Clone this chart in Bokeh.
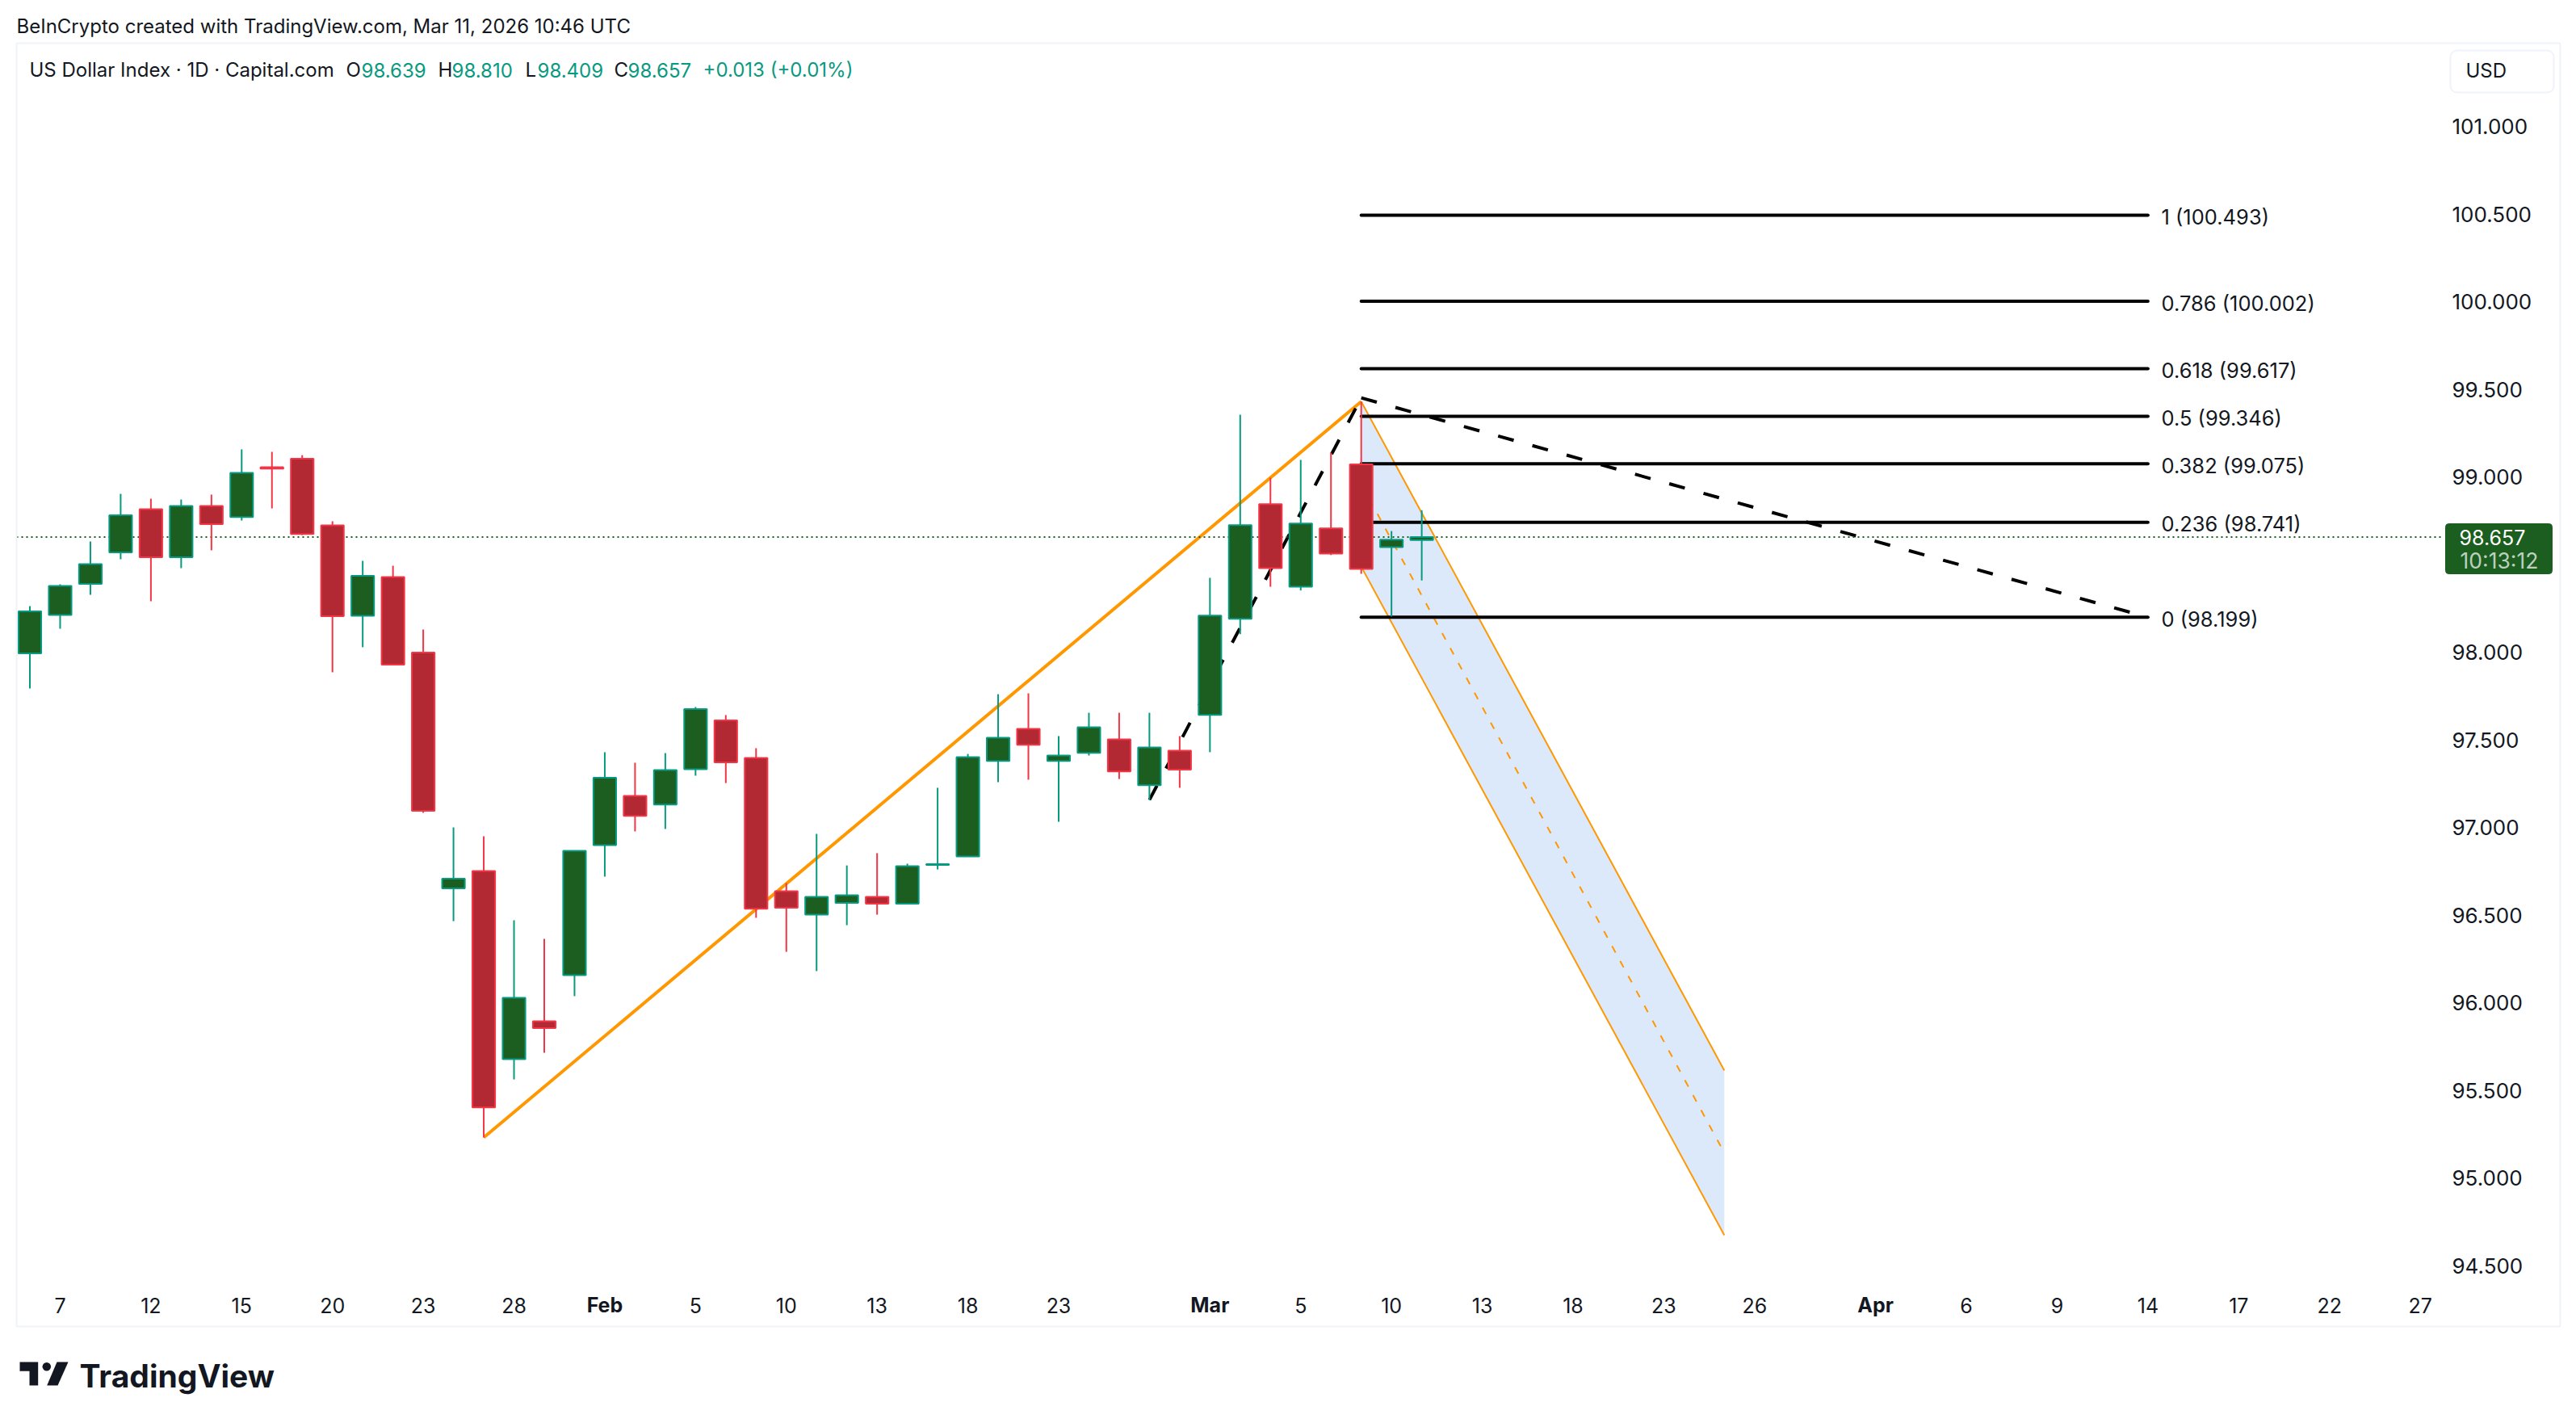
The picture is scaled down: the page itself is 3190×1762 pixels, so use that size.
from bokeh.embed import file_html
from bokeh.models import BoxAnnotation, FixedTicker, Label, LinearAxis, NumeralTickFormatter, Range1d
from bokeh.plotting import figure
from bokeh.resources import INLINE

# daily candles
bars = list(range(47))
opens = [97.993, 98.212, 98.389, 98.569, 98.816, 98.541, 98.834, 98.771, 99.055, 99.104,
         98.724, 98.207, 98.429, 97.998, 96.652, 96.751, 95.677, 95.894, 96.157, 96.899,
         97.180, 97.130, 97.332, 97.611, 97.396, 96.636, 96.502, 96.569, 96.604, 96.564,
         96.786, 96.834, 97.379, 97.562, 97.379, 97.425, 97.502, 97.241, 97.438, 97.642,
         98.190, 98.845, 98.373, 98.706, 99.071, 98.599, 98.639]
highs = [98.263, 98.387, 98.631, 98.903, 98.876, 98.871, 98.899, 99.157, 99.143, 99.124,
         98.747, 98.521, 98.493, 98.129, 97.000, 96.949, 96.470, 96.364, 96.866, 97.429,
         97.369, 97.424, 97.687, 97.641, 97.452, 96.682, 96.963, 96.783, 96.853, 96.793,
         97.226, 97.419, 97.760, 97.765, 97.521, 97.654, 97.654, 97.654, 97.521, 98.424,
         99.355, 98.995, 99.097, 99.138, 99.430, 98.691, 98.810]
lows = [97.793, 98.134, 98.327, 98.530, 98.290, 98.479, 98.581, 98.751, 98.820, 98.668,
        97.885, 98.028, 97.929, 97.083, 96.465, 95.230, 95.562, 95.714, 96.037, 96.719,
        96.977, 96.991, 97.295, 97.253, 96.484, 96.290, 96.180, 96.442, 96.502, 96.564,
        96.760, 96.834, 97.258, 97.272, 97.032, 97.410, 97.276, 97.157, 97.226, 97.429,
        98.103, 98.373, 98.352, 98.554, 98.447, 98.203, 98.409]
closes = [98.233, 98.378, 98.502, 98.781, 98.541, 98.834, 98.730, 99.023, 99.047, 98.674,
          98.205, 98.435, 97.929, 97.094, 96.707, 95.402, 96.028, 95.855, 96.866, 97.283,
          97.066, 97.327, 97.675, 97.371, 96.536, 96.541, 96.604, 96.613, 96.564, 96.779,
          96.790, 97.401, 97.512, 97.471, 97.410, 97.571, 97.319, 97.456, 97.329, 98.209,
          98.725, 98.479, 98.734, 98.562, 98.475, 98.642, 98.657]

last_price = 98.657

# fib extension levels
fib_ratios = ["1", "0.786", "0.618", "0.5", "0.382", "0.236", "0"]
fib_prices = [100.493, 100.002, 99.617, 99.346, 99.075, 98.741, 98.199]
fib_bars = [44, 70]

# trend drawings
wedge_bars = [15, 44]
wedge_prices = [95.230, 99.430]
dash_up_bars = [37, 44]
dash_up_prices = [97.157, 99.451]
dash_down_bars = [44, 70]
dash_down_prices = [99.451, 98.199]
channel_bars = [44, 56]
channel_top = [99.430, 95.613]
channel_mid = [98.959, 95.143]
channel_bottom = [98.488, 94.673]

# axes
price_ticks = [94.5, 95.0, 95.5, 96.0, 96.5, 97.0, 97.5, 98.0, 98.5, 99.0, 99.5, 100.0, 100.5, 101.0]
day_ticks = [1, 4, 7, 10, 13, 16, 22, 25, 28, 31, 34, 42, 45, 48, 51, 54, 57, 64, 67, 70, 73, 76, 79]
day_labels = ["7", "12", "15", "20", "23", "28", "5", "10", "13", "18", "23", "5", "10", "13", "18", "23", "26",
              "6", "9", "14", "17", "22", "27"]
month_ticks = [19, 39, 61]
month_labels = ["Feb", "Mar", "Apr"]

FONT = "Inter"
TEXT = "#131722"
UP = "#089981"
DOWN = "#f23645"
UP_FILL = "#1b5e20"
DOWN_FILL = "#b22833"
ORANGE = "#ff9800"
PANE = "#f0f3fa"


# page pixels to data, only used to place the chrome around the chart
def bar_at(px):
    return (px - 36.5) / 37.47


def price_at(py):
    return 101 - (py - 156) / 217


p = figure(width=3182, height=1754, output_backend="svg", toolbar_location=None,
           x_range=Range1d(bar_at(0), bar_at(3182)), y_range=Range1d(price_at(1754), price_at(0)),
           x_axis_location="below", y_axis_location="right",
           min_border_left=0, min_border_right=0, min_border_top=0, min_border_bottom=0)
p.background_fill_color = "white"
p.border_fill_color = "white"
p.outline_line_color = None
p.grid.visible = False

# chart pane border
p.add_layout(BoxAnnotation(left=bar_at(20), right=bar_at(3170), top=price_at(53), bottom=price_at(1642),
                           fill_alpha=0, line_color=PANE, line_alpha=1, line_width=2))

# price scale
p.yaxis.fixed_location = bar_at(3020)
p.yaxis.ticker = FixedTicker(ticks=price_ticks)
p.yaxis.formatter = NumeralTickFormatter(format="0.000")
p.yaxis.axis_line_color = None
p.yaxis.major_tick_line_color = None
p.yaxis.minor_tick_line_color = None
p.yaxis.major_label_text_font = FONT
p.yaxis.major_label_text_font_size = "26px"
p.yaxis.major_label_text_color = TEXT
p.yaxis.major_label_standoff = 10

# time scale
p.xaxis.fixed_location = price_at(1600)
p.xaxis.ticker = FixedTicker(ticks=day_ticks)
p.xaxis.major_label_overrides = dict(zip(day_ticks, day_labels))
p.xaxis.axis_line_color = None
p.xaxis.major_tick_line_color = None
p.xaxis.minor_tick_line_color = None
p.xaxis.major_label_text_font = FONT
p.xaxis.major_label_text_font_size = "25px"
p.xaxis.major_label_text_color = TEXT
p.xaxis.major_label_standoff = 0

months = LinearAxis(fixed_location=price_at(1594), ticker=FixedTicker(ticks=month_ticks),
                    major_label_overrides=dict(zip(month_ticks, month_labels)),
                    axis_line_color=None, major_tick_line_color=None, minor_tick_line_color=None,
                    major_label_text_font=FONT, major_label_text_font_size="25px",
                    major_label_text_font_style="bold", major_label_text_color=TEXT,
                    major_label_standoff=0)
p.add_layout(months, "below")

# projected channel
p.varea(x=channel_bars, y1=channel_bottom, y2=channel_top, fill_color="#dbe9fb")
p.line(channel_bars, channel_top, line_color=ORANGE, line_width=2)
p.line(channel_bars, channel_bottom, line_color=ORANGE, line_width=2)
p.line(channel_bars, channel_mid, line_color=ORANGE, line_width=2, line_dash=[9, 12])

# fib levels
for level in fib_prices:
    p.line(fib_bars, [level, level], line_color="black", line_width=4, line_cap="round")

p.line(wedge_bars, wedge_prices, line_color=ORANGE, line_width=4)
p.line(dash_up_bars, dash_up_prices, line_color="black", line_width=4, line_dash=[20, 24])
p.line(dash_down_bars, dash_down_prices, line_color="black", line_width=4, line_dash=[20, 24])

# last price line stops at the price scale
p.line([bar_at(20), bar_at(3022)], [last_price, last_price], line_color=UP_FILL, line_width=2, line_dash=[2, 4])

# candles
borders = [UP if c >= o else DOWN for o, c in zip(opens, closes)]
fills = [UP_FILL if c >= o else DOWN_FILL for o, c in zip(opens, closes)]
tops = [max(o, c) for o, c in zip(opens, closes)]
bottoms = [min(o, c) for o, c in zip(opens, closes)]
p.segment(bars, highs, bars, lows, line_color=borders, line_width=2)
p.vbar(x=bars, top=tops, bottom=bottoms, width=0.75, fill_color=fills, line_color=borders, line_width=2)


def text(px, py, value, color=TEXT, size="24px", style="normal", level="annotation"):
    p.add_layout(Label(x=bar_at(px), y=price_at(py), text=value, text_color=color, text_font=FONT,
                       text_font_size=size, text_font_style=style, text_baseline="middle", level=level))


for ratio, level in zip(fib_ratios, fib_prices):
    text(2676, 156 + (101 - level) * 217 + 2, f"{ratio} ({level:.3f})", size="25.5px")

# header and legend
text(20, 32, "BeInCrypto created with TradingView.com, Mar 11, 2026 10:46 UTC")
text(36, 86, "US Dollar Index · 1D · Capital.com")
text(428, 86, "O")
text(447, 86, f"{opens[-1]:.3f}", UP)
text(542, 86, "H")
text(559, 86, f"{highs[-1]:.3f}", UP)
text(650, 86, "L")
text(665, 86, f"{lows[-1]:.3f}", UP)
text(760, 86, "C")
text(777, 86, f"{closes[-1]:.3f}", UP)
text(870, 86, "+0.013 (+0.01%)", UP)

# currency button
p.add_layout(BoxAnnotation(left=bar_at(3034), right=bar_at(3162), top=price_at(62), bottom=price_at(114),
                           fill_color="white", fill_alpha=1, line_color=PANE, line_alpha=1, line_width=2,
                           border_radius=8))
text(3053, 87, "USD")

# last price tag, covers the 98.500 tick like the original
p.add_layout(BoxAnnotation(left=bar_at(3028), right=bar_at(3160), top=price_at(648), bottom=price_at(710),
                           fill_color=UP_FILL, fill_alpha=1, line_color=UP_FILL, line_alpha=1, border_radius=4,
                           level="overlay"))
text(3045, 665, f"{last_price:.3f}", "white", "25px", level="overlay")
text(3046, 693, "10:13:12", "#bdd0be", "26.5px", level="overlay")

# logo
p.patch([bar_at(v) for v in [24, 46.7, 46.7, 36, 36, 24]],
        [price_at(v) for v in [1686, 1686, 1715, 1715, 1697.3, 1697.3]], fill_color=TEXT, line_width=0)
p.patch([bar_at(v) for v in [70, 84, 71, 57.7]],
        [price_at(v) for v in [1686, 1686, 1715, 1715]], fill_color=TEXT, line_width=0)
p.scatter([bar_at(57.3)], [price_at(1691.7)], marker="circle", size=10.5, fill_color=TEXT, line_width=0)
text(98, 1703, "TradingView", TEXT, "39px", "bold")

open("out.html", "w").write(file_html(p, INLINE))
